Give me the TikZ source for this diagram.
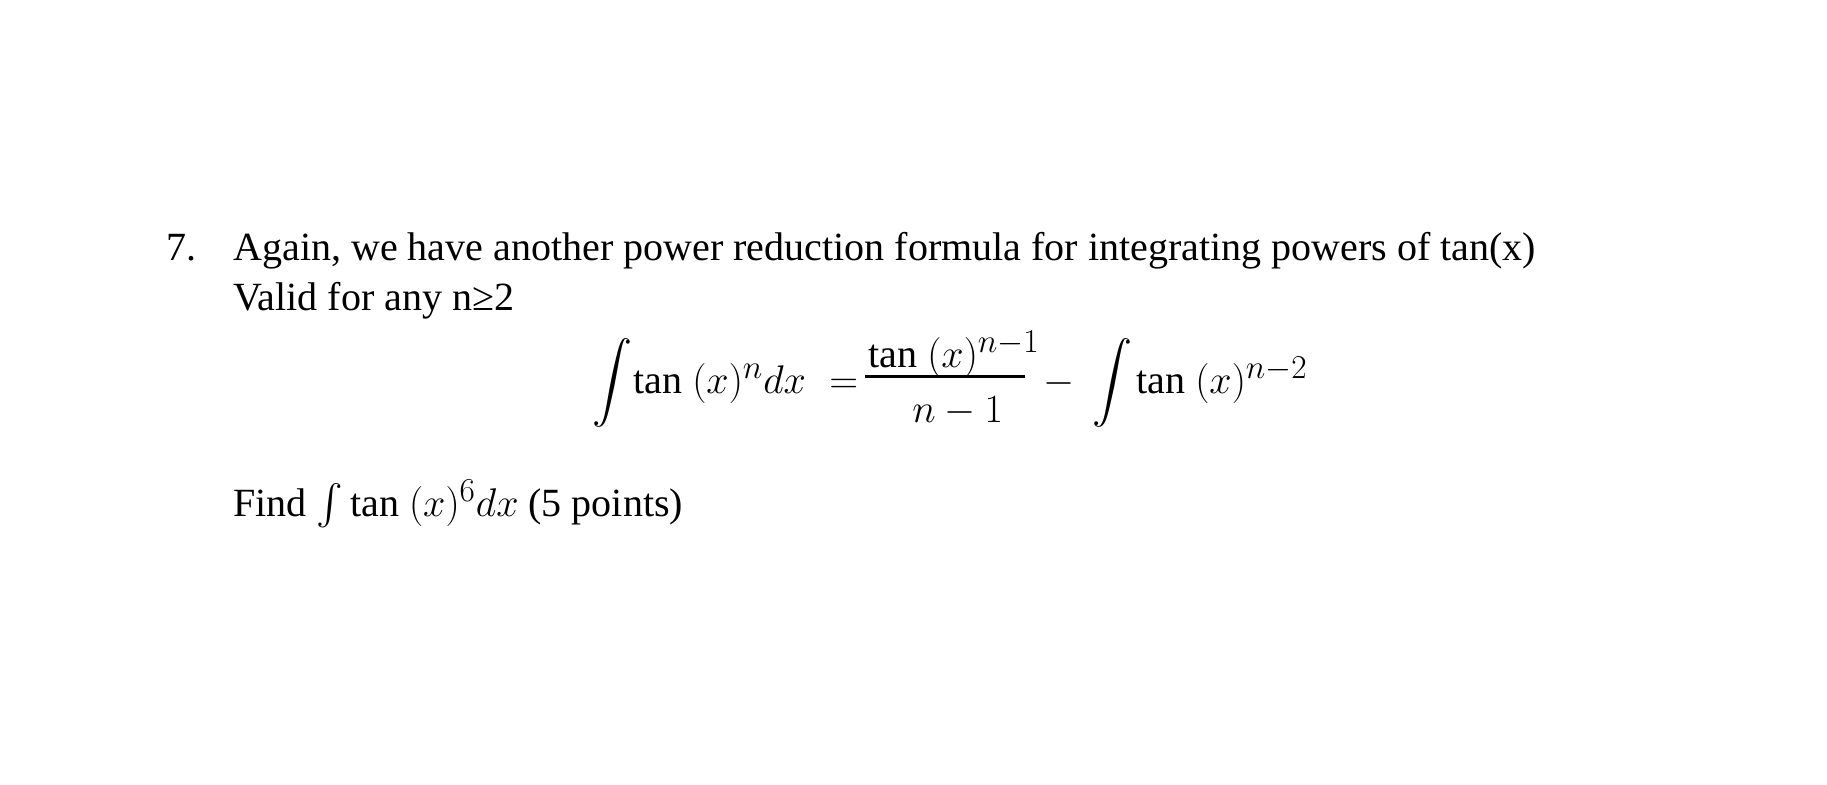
\documentclass[tikz,border=0pt]{standalone}
\usepackage{amsmath}
\usepackage{fontspec}
\setmainfont{Liberation Serif}
\newcommand{\bigsup}[1]{^{\mbox{\fontsize{17.28}{20}\selectfont$#1$}}}
\begin{document}
\begin{tikzpicture}[x=1pt,y=-1pt,
  txt/.style={anchor=base west, inner sep=0pt, font=\fontsize{20.74}{24}\selectfont, scale=1.93, transform shape},
  mth/.style={anchor=base west, inner sep=0pt, font=\fontsize{20.74}{24}\selectfont, scale=1.93, transform shape}]
\useasboundingbox (0,0) rectangle (1827,784);
\fill[white] (0,0) rectangle (1827,784);
\node[txt] (num) at (166,260) {7.};
\node[txt] (l1) at (233,260) {Again, we have another power reduction formula for integrating powers of tan(x)};
\node[txt] (l2) at (233,310) {Valid for any n≥2};
\node[mth] (int1) at (592,393) {$\displaystyle\int$};
\node[mth] (lhs) at (633,393) {$\mbox{tan}\ (x)\bigsup{n}dx$};
\node[mth] (eq) at (829,393) {$=$};
\node[mth] (numer) at (868,367) {$\mbox{tan}\ (x)\bigsup{n{-}1}$};
\coordinate (barl) at (865,376);
\coordinate (barr) at (1025,376);
\draw[line width=3pt] (barl) -- (barr);
\node[mth] (denom) at (912,422) {$n-1$};
\node[mth] (minus) at (1043,393) {$-$};
\node[mth] (int2) at (1092,393) {$\displaystyle\int$};
\node[mth] (rhs) at (1136,393) {$\mbox{tan}\ (x)\bigsup{n{-}2}$};
\node[txt] (find) at (233,516) {Find $\int\mbox{tan}\ (x)\bigsup{6}dx$ (5 points)};
\end{tikzpicture}
\end{document}
